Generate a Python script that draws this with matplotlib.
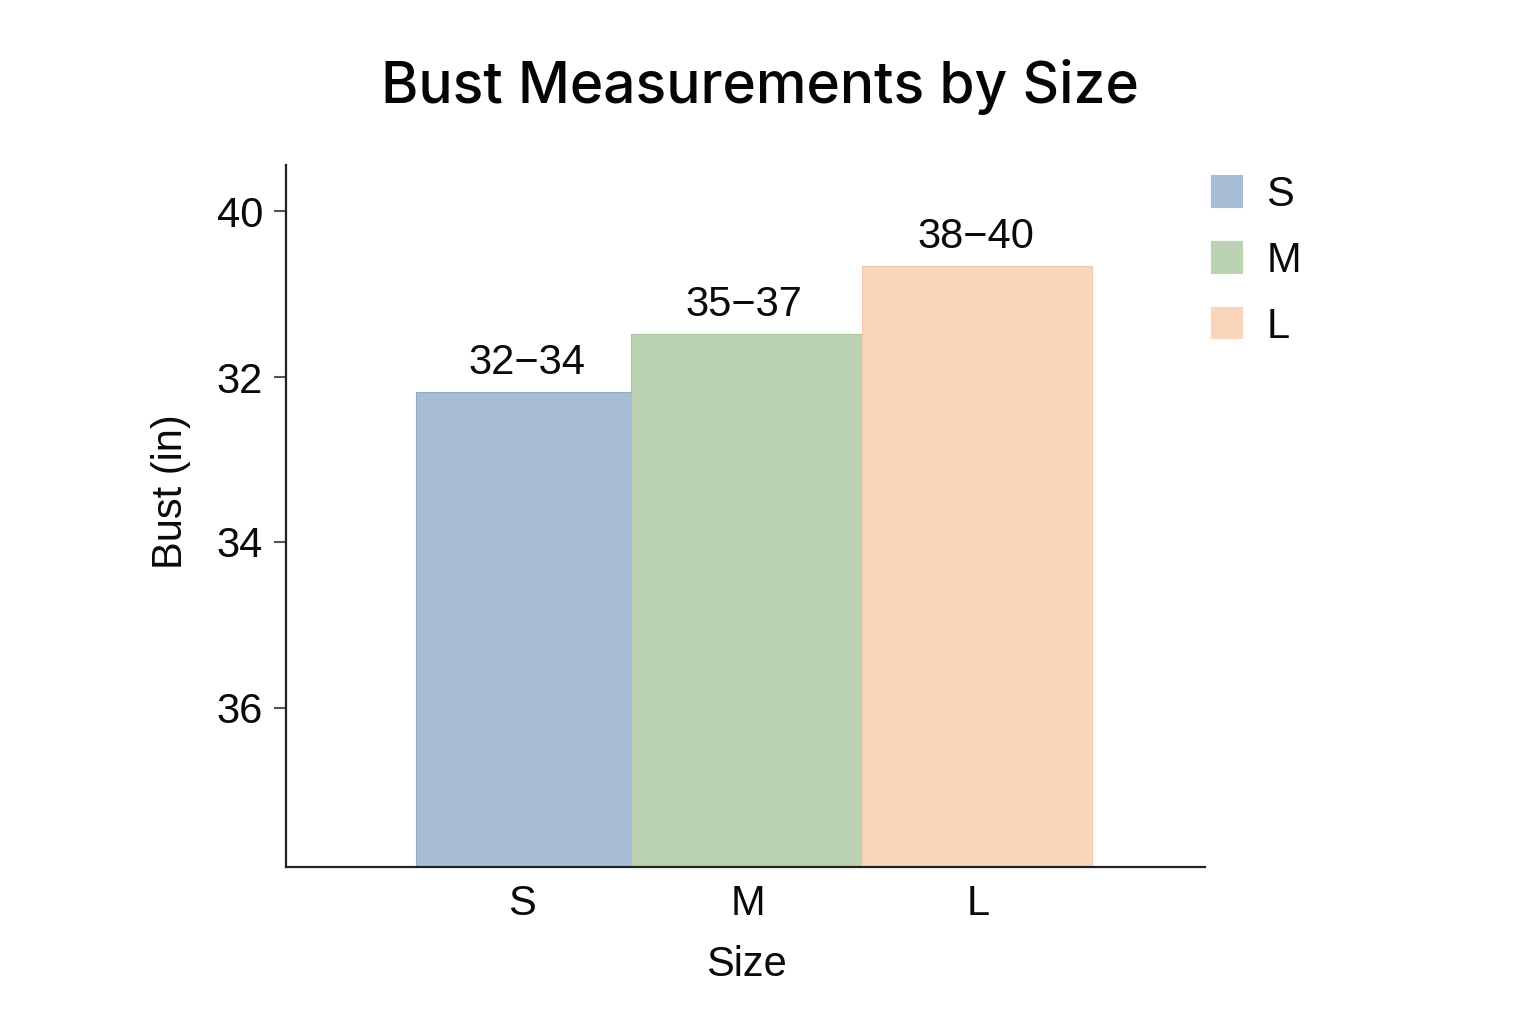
import matplotlib
matplotlib.use("Agg")
import matplotlib.pyplot as plt
from matplotlib.patches import Patch

# data
sizes = ["S", "M", "L"]
ranges = ["32−34", "35−37", "38−40"]
bar_heights = [2.863, 3.211, 3.622]        # in the axis' own units
bar_lefts = [0.565, 1.5, 2.504]
bar_widths = [0.935, 1.004, 1.0]
tick_x = [1.026, 2.009, 3.009]
label_x = [1.048, 1.99, 3.0]
ytick_pos = [3.95, 2.95, 1.96, 0.96]
ytick_labels = ["40", "32", "34", "36"]
colors = ["#a8bed4", "#bcd3b3", "#f9d6bb"]
edges = ["#94aac2", "#aac4a0", "#f2c8aa"]

plt.rcParams['font.family'] = ['Liberation Sans', 'DejaVu Sans']

fig = plt.figure(figsize=(15.36, 10.24), dpi=100)
ax = fig.add_axes([286/1536, 1-867/1024, 919/1536, 702/1024])

for i in range(len(sizes)):
    ax.bar(bar_lefts[i], bar_heights[i], width=bar_widths[i], align='edge',
           color=colors[i], edgecolor=edges[i], linewidth=0.8)
    ax.annotate(ranges[i], (label_x[i], bar_heights[i]), xytext=(0, 13),
                textcoords='offset points', ha='center', va='baseline',
                fontsize=30, color='#0a0a0a')

ax.set_xlim(0, 919/230)
ax.set_ylim(0, 702/166)
ax.set_xticks(tick_x)
ax.set_xticklabels(sizes)
ax.set_yticks(ytick_pos)
ax.set_yticklabels(ytick_labels)
ax.tick_params(axis='x', length=0, pad=12, labelsize=30, labelcolor='#0a0a0a')
ax.tick_params(axis='y', length=8.5, width=1.5, color='#555555', pad=8,
               labelsize=30, labelcolor='#0a0a0a')

for s in ['top', 'right']:
    ax.spines[s].set_visible(False)
for s in ['left', 'bottom']:
    ax.spines[s].set_color('#222222')
    ax.spines[s].set_linewidth(1.6)

fig.text(760/1536, 1-103/1024, "Bust Measurements by Size", ha='center',
         va='baseline', fontsize=41, family=['Inter', 'DejaVu Sans'],
         weight='medium', color='#050505')
fig.text(171/1536, 1-492/1024, "Bust (in)", rotation=90, ha='center',
         va='center', fontsize=30, color='#0a0a0a')
fig.text(746/1536, 1-976/1024, "Size", ha='center', va='baseline',
         fontsize=30, color='#0a0a0a')

handles = [Patch(facecolor=c, edgecolor=c, linewidth=3, joinstyle='round')
           for c in colors]
fig.legend(handles, sizes, loc='upper left',
           bbox_to_anchor=(1213/1536, 1-175/1024), frameon=False,
           fontsize=30, handlelength=0.68, handleheight=0.68,
           handletextpad=0.6, labelspacing=0.62, borderpad=0,
           borderaxespad=0, labelcolor='#0a0a0a')

fig.savefig("out.png", dpi=100)
